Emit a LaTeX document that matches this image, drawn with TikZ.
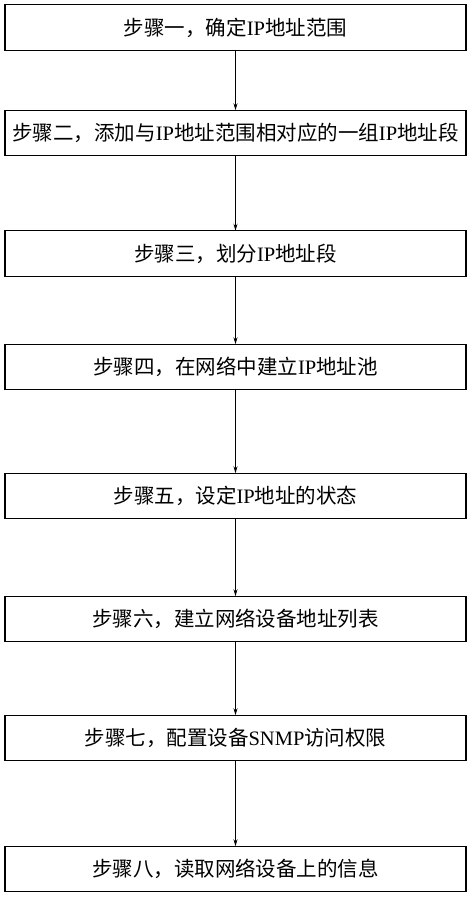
\documentclass[tikz,border=0pt]{standalone}
\usepackage{fontspec}
\setmainfont{Noto Sans CJK SC}
\newfontfamily\latinfont{Liberation Serif}
\newcommand{\ipname}[1]{{\latinfont #1}}
\usepackage{tikz}
\usetikzlibrary{arrows.meta, positioning}

\begin{document}
\begin{tikzpicture}[x=1pt, y=-1pt, node distance=60pt,
  every node/.style={draw, line width=1.4pt, minimum width=461pt, minimum height=45.5pt, inner sep=0pt, outer sep=0pt, anchor=center, font=\fontsize{20.5}{20.5}\selectfont},
  flow/.style={-{Stealth[length=7pt, width=4pt]}, line width=0.9pt}]
  \useasboundingbox (0,0) rectangle (474,900);
  \node (s1) at (235.5,27.5) {步骤一，确定\ipname{IP}地址范围};
  \node (s2) [below=60pt of s1] {步骤二，添加与\ipname{IP}地址范围相对应的一组\ipname{IP}地址段};
  \node (s3) [below=75pt of s2] {步骤三，划分\ipname{IP}地址段};
  \node (s4) [below=68pt of s3] {步骤四，在网络中建立\ipname{IP}地址池};
  \node (s5) [below=83.5pt of s4] {步骤五，设定\ipname{IP}地址的状态};
  \node (s6) [below=77.5pt of s5] {步骤六，建立网络设备地址列表};
  \node (s7) [below=73.5pt of s6] {步骤七，配置设备\ipname{SNMP}访问权限};
  \node (s8) [below=85.5pt of s7] {步骤八，读取网络设备上的信息};
  \draw[flow] (s1) -- (s2);
  \draw[flow] (s2) -- (s3);
  \draw[flow] (s3) -- (s4);
  \draw[flow] (s4) -- (s5);
  \draw[flow] (s5) -- (s6);
  \draw[flow] (s6) -- (s7);
  \draw[flow] (s7) -- (s8);
\end{tikzpicture}
\end{document}
